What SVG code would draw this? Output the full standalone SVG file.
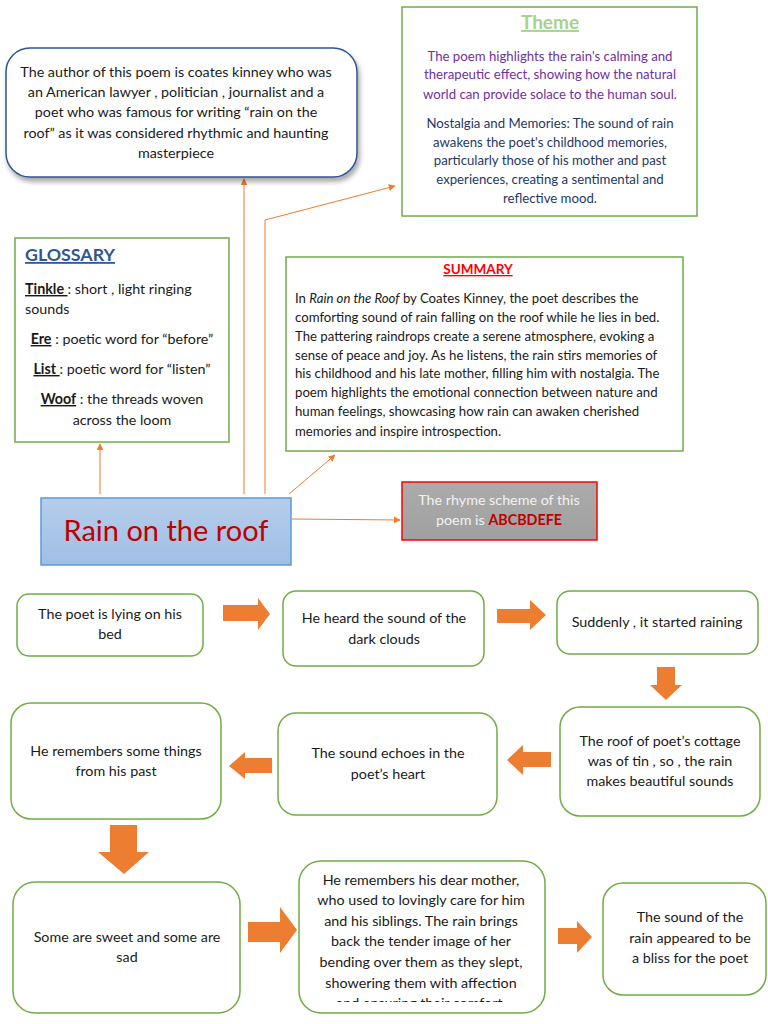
<svg xmlns="http://www.w3.org/2000/svg" width="768" height="1024" viewBox="0 0 768 1024">
<style>
text{font-family:Lato,"Open Sans","DejaVu Sans",sans-serif;fill:#1a1a1a}
.t13{font-size:14.3px}
.t12{font-size:13.2px}
.c{text-anchor:middle}
.g{fill:#fff;stroke:#70AD47;stroke-width:1.5}
.conn{stroke:#ED7D31;stroke-width:1;fill:none}
.blk{fill:#ED7D31}
.u{text-decoration:underline}
.b{font-weight:bold}
</style>
<defs>
<marker id="ah" viewBox="0 0 10 10" refX="9" refY="5" markerWidth="7" markerHeight="7" orient="auto" markerUnits="userSpaceOnUse">
<path d="M0,0 L10,5 L0,10 z" fill="#ED7D31"/>
</marker>
<filter id="sh" x="-10%" y="-10%" width="130%" height="140%">
<feDropShadow dx="2" dy="4" stdDeviation="2.5" flood-color="#000" flood-opacity="0.35"/>
</filter>
<linearGradient id="blue" x1="0" y1="0" x2="0" y2="1">
<stop offset="0" stop-color="#B5CDEB"/>
<stop offset="1" stop-color="#A0BFE5"/>
</linearGradient>
<linearGradient id="gray" x1="0" y1="0" x2="0" y2="1">
<stop offset="0" stop-color="#ABABAB"/>
<stop offset="1" stop-color="#A0A0A0"/>
</linearGradient>
<clipPath id="mclip"><rect x="299" y="861" width="246" height="141"/></clipPath>
</defs>

<g id="connectors">
<line class="conn" x1="100" y1="494" x2="100" y2="444" marker-end="url(#ah)"/>
<line class="conn" x1="244" y1="494" x2="244" y2="179" marker-end="url(#ah)"/>
<polyline class="conn" points="265,494 265,220 395,186" marker-end="url(#ah)"/>
<line class="conn" x1="289" y1="494" x2="335" y2="455" marker-end="url(#ah)"/>
<line class="conn" x1="292" y1="519" x2="400" y2="520" marker-end="url(#ah)"/>
<path class="blk" d="M223,605 H258 V598 L270,614 L258,630 V621 H223 Z"/>
<path class="blk" d="M497,609 H530 V600 L546,615 L530,630 V623 H497 Z"/>
<path class="blk" d="M657,667 H675 V685 H682 L666,700 L650,685 H657 Z"/>
<path class="blk" d="M551,752 H523 V745 L507,760 L523,775 V767 H551 Z"/>
<path class="blk" d="M272,758 H245 V752 L229,766 L245,779 V773 H272 Z"/>
<path class="blk" d="M110,825 H137 V852 H149 L124,874 L98,852 H110 Z"/>
<path class="blk" d="M248,922 H280 V907 L297,930 L280,953 V942 H248 Z"/>
<path class="blk" d="M558,928 H577 V921 L592,937 L577,953 V944 H558 Z"/>
</g>

<g id="author">
<rect x="6" y="48" width="351" height="129" rx="24" fill="#fff" stroke="#2F5597" stroke-width="1.5" filter="url(#sh)"/>
<text class="t13 c"><tspan x="176" y="77">The author of this poem is coates kinney who was</tspan><tspan x="176" y="97">an American lawyer , politician , journalist and a</tspan><tspan x="176" y="117">poet who was famous for writing “rain on the</tspan><tspan x="176" y="138">roof” as it was considered rhythmic and haunting</tspan><tspan x="176" y="158">masterpiece</tspan></text>
</g>

<g id="theme">
<rect x="402" y="7" width="295" height="209" fill="#fff" stroke="#70AD47" stroke-width="1.5"/>
<text class="c b u" x="550" y="29" style="font-size:19px;fill:#A9D18E">Theme</text>
<text class="t12 c" style="fill:#7030A0"><tspan x="550" y="61">The poem highlights the rain's calming and</tspan><tspan x="550" y="79">therapeutic effect, showing how the natural</tspan><tspan x="550" y="99">world can provide solace to the human soul.</tspan></text>
<text class="t12 c" style="fill:#1F3864"><tspan x="550" y="128">Nostalgia and Memories: The sound of rain</tspan><tspan x="550" y="147">awakens the poet's childhood memories,</tspan><tspan x="550" y="165">particularly those of his mother and past</tspan><tspan x="550" y="184">experiences, creating a sentimental and</tspan><tspan x="550" y="203">reflective mood.</tspan></text>
</g>

<g id="glossary">
<rect x="15" y="238" width="214" height="204" fill="#fff" stroke="#70AD47" stroke-width="1.5"/>
<text class="b u" x="25" y="261" style="font-size:17.8px;fill:#2F5597">GLOSSARY</text>
<text class="t13" x="25" y="294"><tspan class="b u">Tinkle </tspan>: short , light ringing</text>
<text class="t13" x="25" y="314">sounds</text>
<text class="t13 c" x="122" y="344"><tspan class="b u">Ere</tspan> : poetic word for “before”</text>
<text class="t13 c" x="122" y="374"><tspan class="b u">List </tspan>: poetic word for “listen”</text>
<text class="t13 c" x="122" y="404"><tspan class="b u">Woof</tspan> : the threads woven</text>
<text class="t13 c" x="122" y="425">across the loom</text>
</g>

<g id="summary">
<rect x="286" y="257" width="397" height="194" fill="#fff" stroke="#70AD47" stroke-width="1.5"/>
<text class="b u" x="478" y="274" text-anchor="middle" style="font-size:13.5px;fill:#FF0000">SUMMARY </text>
<text class="t12"><tspan x="295" y="303">In <tspan font-style="italic">Rain on the Roof</tspan> by Coates Kinney, the poet describes the</tspan><tspan x="295" y="322">comforting sound of rain falling on the roof while he lies in bed.</tspan><tspan x="295" y="341">The pattering raindrops create a serene atmosphere, evoking a</tspan><tspan x="295" y="360">sense of peace and joy. As he listens, the rain stirs memories of</tspan><tspan x="295" y="378">his childhood and his late mother, filling him with nostalgia. The</tspan><tspan x="295" y="397">poem highlights the emotional connection between nature and</tspan><tspan x="295" y="416">human feelings, showcasing how rain can awaken cherished</tspan><tspan x="295" y="436">memories and inspire introspection.</tspan></text>
</g>

<g id="title">
<rect x="41" y="498" width="250" height="67" fill="url(#blue)" stroke="#5B9BD5" stroke-width="1.5"/>
<text class="c" x="166" y="541" style="font-size:29px;fill:#C00000">Rain on the roof</text>
</g>

<g id="rhyme">
<rect x="402" y="482" width="195" height="58" fill="url(#gray)" stroke="#FF0000" stroke-width="1.5"/>
<text class="t13 c" style="fill:#F2F2F2"><tspan x="499" y="505">The rhyme scheme of this</tspan><tspan x="499" y="525">poem is <tspan style="fill:#C00000;font-weight:bold">ABCBDEFE</tspan></tspan></text>
</g>

<g id="n1"><rect class="g" x="17" y="594" width="186" height="62" rx="12"/>
<text class="t13 c"><tspan x="110" y="619">The poet is lying on his</tspan><tspan x="110" y="639">bed</tspan></text></g>
<g id="n2"><rect class="g" x="283" y="591" width="201" height="75" rx="13"/>
<text class="t13 c"><tspan x="384" y="623">He heard the sound of the</tspan><tspan x="384" y="644">dark clouds</tspan></text></g>
<g id="n3"><rect class="g" x="557" y="591" width="201" height="63" rx="13"/>
<text class="t13 c"><tspan x="657" y="627">Suddenly , it started raining</tspan></text></g>
<g id="n4"><rect class="g" x="560" y="707" width="200" height="109" rx="20"/>
<text class="t13 c"><tspan x="660" y="746">The roof of poet’s cottage</tspan><tspan x="660" y="766">was of tin , so , the rain</tspan><tspan x="660" y="786">makes beautiful sounds</tspan></text></g>
<g id="n5"><rect class="g" x="278" y="713" width="219" height="102" rx="18"/>
<text class="t13 c"><tspan x="388" y="758">The sound echoes in the</tspan><tspan x="388" y="779">poet’s heart</tspan></text></g>
<g id="n6"><rect class="g" x="11" y="703" width="210" height="116" rx="20"/>
<text class="t13 c"><tspan x="116" y="756">He remembers some things</tspan><tspan x="116" y="776">from his past</tspan></text></g>
<g id="n7"><rect class="g" x="13" y="882" width="227" height="131" rx="22"/>
<text class="t13 c"><tspan x="127" y="942">Some are sweet and some are</tspan><tspan x="127" y="962">sad</tspan></text></g>
<g id="n8"><rect class="g" x="299" y="861" width="246" height="152" rx="22"/>
<text class="t13 c" clip-path="url(#mclip)"><tspan x="421" y="885">He remembers his dear mother,</tspan><tspan x="421" y="905">who used to lovingly care for him</tspan><tspan x="421" y="926">and his siblings. The rain brings</tspan><tspan x="421" y="946">back the tender image of her</tspan><tspan x="421" y="967">bending over them as they slept,</tspan><tspan x="421" y="988">showering them with affection</tspan><tspan x="421" y="1008">and ensuring their comfort.</tspan></text></g>
<g id="n9"><rect class="g" x="603" y="883" width="163" height="112" rx="20"/>
<text class="t13 c"><tspan x="690" y="922">The sound of the</tspan><tspan x="690" y="943">rain appeared to be</tspan><tspan x="690" y="963">a bliss for the poet</tspan></text></g>
</svg>
